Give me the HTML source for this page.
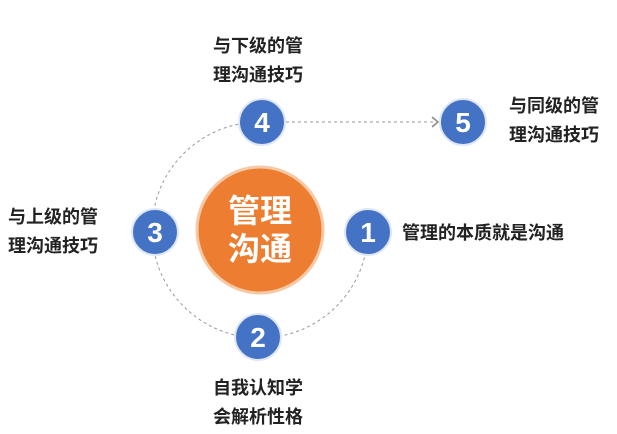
<!DOCTYPE html>
<html><head><meta charset="utf-8"><style>
body{margin:0;width:617px;height:434px;background:#fff;overflow:hidden;position:relative;font-family:"Liberation Sans","Noto Sans CJK SC",sans-serif}
.t{position:absolute;font-weight:bold;font-size:18px;line-height:29px;color:#222;white-space:nowrap}
</style></head><body>
<svg width="617" height="434" style="position:absolute;left:0;top:0">
<g fill="none" stroke="#999" stroke-width="1" stroke-dasharray="3,3">
<path d="M262 122 A108 108 0 1 0 368 232"/>
<line x1="286" y1="122" x2="436" y2="122"/>
</g>
<path d="M432 117 L438 122 L432 127" fill="none" stroke="#888" stroke-width="1.5"/>
<circle cx="260" cy="230" r="63" fill="#ed7d31" stroke="#f6c9a6" stroke-width="3"/>
<g fill="#4472c4" stroke="#dfe7f5" stroke-width="2">
<circle cx="262" cy="122" r="23"/><circle cx="155" cy="232" r="23"/>
<circle cx="368" cy="232" r="23"/><circle cx="258" cy="337" r="23"/>
<circle cx="463" cy="122" r="23"/>
</g>
<g fill="#fff" font-family="Liberation Sans, sans-serif" font-weight="bold" font-size="28" text-anchor="middle">
<text x="262" y="132">4</text><text x="155" y="242">3</text><text x="368" y="242">1</text>
<text x="258" y="347">2</text><text x="463" y="132">5</text>
</g>
<g fill="#fff" font-family="Liberation Sans, Noto Sans CJK SC, sans-serif" font-weight="bold" font-size="32" text-anchor="middle">
<text x="260" y="222">管理</text><text x="260" y="260">沟通</text>
</g>
</svg>
<div class="t" style="left:213px;top:32px">与下级的管<br>理沟通技巧</div>
<div class="t" style="left:509px;top:92px">与同级的管<br>理沟通技巧</div>
<div class="t" style="left:8px;top:203px">与上级的管<br>理沟通技巧</div>
<div class="t" style="left:402px;top:219px">管理的本质就是沟通</div>
<div class="t" style="left:213px;top:374px">自我认知学<br>会解析性格</div>
</body></html>
